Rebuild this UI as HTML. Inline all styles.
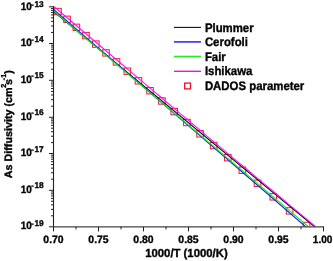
<!DOCTYPE html>
<html><head><meta charset="utf-8"><style>
html,body{margin:0;padding:0;background:#fff;width:333px;height:261px;overflow:hidden}
svg{display:block}
</style></head><body>
<svg width="333" height="261" viewBox="0 0 333 261" text-rendering="geometricPrecision">
<rect width="333" height="261" fill="#fff"/>
<defs><clipPath id="pc"><rect x="53.5" y="6.3" width="275" height="220.5"/></clipPath></defs>
<g clip-path="url(#pc)" fill="none" stroke-width="1.1">
<rect x="54.70" y="8.33" width="6.6" height="6.4" stroke="#f01830" stroke-width="1"/><rect x="63.76" y="16.12" width="6.6" height="6.4" stroke="#f01830" stroke-width="1"/><rect x="73.07" y="24.14" width="6.6" height="6.4" stroke="#f01830" stroke-width="1"/><rect x="82.66" y="32.40" width="6.6" height="6.4" stroke="#f01830" stroke-width="1"/><rect x="92.54" y="40.90" width="6.6" height="6.4" stroke="#f01830" stroke-width="1"/><rect x="102.72" y="49.66" width="6.6" height="6.4" stroke="#f01830" stroke-width="1"/><rect x="113.21" y="58.69" width="6.6" height="6.4" stroke="#f01830" stroke-width="1"/><rect x="124.03" y="68.00" width="6.6" height="6.4" stroke="#f01830" stroke-width="1"/><rect x="135.19" y="77.61" width="6.6" height="6.4" stroke="#f01830" stroke-width="1"/><rect x="146.71" y="87.53" width="6.6" height="6.4" stroke="#f01830" stroke-width="1"/><rect x="158.60" y="97.77" width="6.6" height="6.4" stroke="#f01830" stroke-width="1"/><rect x="170.90" y="108.35" width="6.6" height="6.4" stroke="#f01830" stroke-width="1"/><rect x="183.61" y="119.30" width="6.6" height="6.4" stroke="#f01830" stroke-width="1"/><rect x="196.76" y="130.62" width="6.6" height="6.4" stroke="#f01830" stroke-width="1"/><rect x="210.37" y="142.34" width="6.6" height="6.4" stroke="#f01830" stroke-width="1"/><rect x="224.47" y="154.47" width="6.6" height="6.4" stroke="#f01830" stroke-width="1"/><rect x="239.08" y="167.05" width="6.6" height="6.4" stroke="#f01830" stroke-width="1"/><rect x="254.23" y="180.09" width="6.6" height="6.4" stroke="#f01830" stroke-width="1"/><rect x="269.96" y="193.63" width="6.6" height="6.4" stroke="#f01830" stroke-width="1"/><rect x="286.28" y="207.68" width="6.6" height="6.4" stroke="#f01830" stroke-width="1"/><rect x="303.25" y="222.29" width="6.6" height="6.4" stroke="#f01830" stroke-width="1"/>
<line x1="50" y1="8.62" x2="330" y2="239.42" stroke="#000"/>
<line x1="50" y1="6.40" x2="330" y2="247.70" stroke="#1414ff"/>
<line x1="50" y1="8.05" x2="330" y2="244.96" stroke="#10e810"/>
<polyline points="50,3.24 60,11.77 70,20.28 80,28.79 90,37.29 100,45.78 110,54.27 120,62.74 130,71.20 140,79.65 150,88.10 160,96.53 170,104.96 180,113.38 190,121.78 200,130.18 210,138.57 220,146.95 230,155.32 240,163.68 250,172.03 260,180.38 270,188.71 280,197.04 290,205.35 300,213.66 310,221.95 320,230.24 330,238.52" stroke="#ff10ff"/>
</g>
<g stroke="#222" fill="none">
<line x1="53.5" y1="6.3" x2="53.5" y2="227.4" stroke-width="1.1"/>
<line x1="53" y1="226.8" x2="324" y2="226.8" stroke-width="1.3" stroke="#444"/>
<path d="M53.50 226.8V231.4M76.00 226.8V229.4M98.50 226.8V231.4M121.00 226.8V229.4M143.50 226.8V231.4M166.00 226.8V229.4M188.50 226.8V231.4M211.00 226.8V229.4M233.50 226.8V231.4M256.00 226.8V229.4M278.50 226.8V231.4M301.00 226.8V229.4M323.50 226.8V231.4M49 6.80H53.5M51 32.45H53.5M51 25.99H53.5M51 21.40H53.5M51 17.85H53.5M51 14.94H53.5M51 12.48H53.5M51 10.36H53.5M51 8.48H53.5M49 43.50H53.5M51 69.22H53.5M51 62.74H53.5M51 58.14H53.5M51 54.58H53.5M51 51.66H53.5M51 49.20H53.5M51 47.07H53.5M51 45.18H53.5M49 80.30H53.5M51 106.16H53.5M51 99.65H53.5M51 95.02H53.5M51 91.44H53.5M51 88.51H53.5M51 86.03H53.5M51 83.89H53.5M51 81.99H53.5M49 117.30H53.5M51 142.60H53.5M51 136.23H53.5M51 131.71H53.5M51 128.20H53.5M51 125.33H53.5M51 122.91H53.5M51 120.81H53.5M51 118.96H53.5M49 153.50H53.5M51 179.22H53.5M51 172.74H53.5M51 168.14H53.5M51 164.58H53.5M51 161.66H53.5M51 159.20H53.5M51 157.07H53.5M51 155.18H53.5M49 190.30H53.5M51 215.81H53.5M51 209.39H53.5M51 204.82H53.5M51 201.29H53.5M51 198.40H53.5M51 195.95H53.5M51 193.84H53.5M51 191.97H53.5M49 226.80H53.5" stroke-width="1"/>
</g>
<g font-family="Liberation Sans, Arial, sans-serif" font-weight="bold" stroke="#000" stroke-width="0.35">
<text x="53.50" y="242.8" font-size="10.6" text-anchor="middle" textLength="20.3" lengthAdjust="spacingAndGlyphs">0.70</text>
<text x="98.50" y="242.8" font-size="10.6" text-anchor="middle" textLength="20.3" lengthAdjust="spacingAndGlyphs">0.75</text>
<text x="143.50" y="242.8" font-size="10.6" text-anchor="middle" textLength="20.3" lengthAdjust="spacingAndGlyphs">0.80</text>
<text x="188.50" y="242.8" font-size="10.6" text-anchor="middle" textLength="20.3" lengthAdjust="spacingAndGlyphs">0.85</text>
<text x="233.50" y="242.8" font-size="10.6" text-anchor="middle" textLength="20.3" lengthAdjust="spacingAndGlyphs">0.90</text>
<text x="278.50" y="242.8" font-size="10.6" text-anchor="middle" textLength="20.3" lengthAdjust="spacingAndGlyphs">0.95</text>
<text x="322.60" y="242.8" font-size="10.6" text-anchor="middle" textLength="19.6" lengthAdjust="spacingAndGlyphs">1.00</text>
<text x="20.7" y="10.20" font-size="10.8" textLength="11.1" lengthAdjust="spacingAndGlyphs">10</text>
<text y="6.60" font-size="7.4"><tspan x="31.2">-</tspan><tspan x="34.5" font-size="8.3">13</tspan></text>
<text x="20.7" y="45.90" font-size="10.8" textLength="11.1" lengthAdjust="spacingAndGlyphs">10</text>
<text y="41.60" font-size="7.4"><tspan x="31.2">-</tspan><tspan x="34.5" font-size="8.3">14</tspan></text>
<text x="20.7" y="82.70" font-size="10.8" textLength="11.1" lengthAdjust="spacingAndGlyphs">10</text>
<text y="78.40" font-size="7.4"><tspan x="31.2">-</tspan><tspan x="34.5" font-size="8.3">15</tspan></text>
<text x="20.7" y="119.70" font-size="10.8" textLength="11.1" lengthAdjust="spacingAndGlyphs">10</text>
<text y="115.40" font-size="7.4"><tspan x="31.2">-</tspan><tspan x="34.5" font-size="8.3">16</tspan></text>
<text x="20.7" y="155.90" font-size="10.8" textLength="11.1" lengthAdjust="spacingAndGlyphs">10</text>
<text y="151.60" font-size="7.4"><tspan x="31.2">-</tspan><tspan x="34.5" font-size="8.3">17</tspan></text>
<text x="20.7" y="192.70" font-size="10.8" textLength="11.1" lengthAdjust="spacingAndGlyphs">10</text>
<text y="188.40" font-size="7.4"><tspan x="31.2">-</tspan><tspan x="34.5" font-size="8.3">18</tspan></text>
<text x="20.7" y="229.20" font-size="10.8" textLength="11.1" lengthAdjust="spacingAndGlyphs">10</text>
<text y="225.70" font-size="7.4"><tspan x="31.2">-</tspan><tspan x="34.5" font-size="8.3">19</tspan></text>
<text x="145.2" y="257.2" font-size="11.6" textLength="82.5" lengthAdjust="spacingAndGlyphs">1000/T (1000/K)</text>
<text transform="translate(12.1,178.2) rotate(-90)" font-size="10.8"><tspan x="0" y="0" textLength="90.8" lengthAdjust="spacingAndGlyphs">As Diffusivity (cm</tspan><tspan x="90.4" y="-5.8" font-size="7.2">2</tspan><tspan x="93.2" y="0">s</tspan><tspan x="98.0" y="-5.8" font-size="7.2">-1</tspan><tspan x="104.4" y="0">)</tspan></text>
<text x="204.9" y="31.60" font-size="12.3" textLength="48.75" lengthAdjust="spacingAndGlyphs">Plummer</text>
<text x="204.9" y="46.20" font-size="12.3" textLength="43.05" lengthAdjust="spacingAndGlyphs">Cerofoli</text>
<text x="204.9" y="60.80" font-size="12.3" textLength="20.89" lengthAdjust="spacingAndGlyphs">Fair</text>
<text x="204.9" y="75.40" font-size="12.3" textLength="47.5" lengthAdjust="spacingAndGlyphs">Ishikawa</text>
<text x="204.9" y="90.00" font-size="12.3" textLength="99.39" lengthAdjust="spacingAndGlyphs">DADOS parameter</text>
</g>
<line x1="174" y1="27.4" x2="201" y2="27.4" stroke="#111" stroke-width="1.1"/>
<line x1="174" y1="41.9" x2="201" y2="41.9" stroke="#4646f4" stroke-width="1.8"/>
<line x1="174" y1="56.5" x2="201" y2="56.5" stroke="#22ee22" stroke-width="1.6"/>
<line x1="174" y1="71.3" x2="201" y2="71.3" stroke="#f010f0" stroke-width="1.4"/>
<rect x="184.7" y="83.1" width="5.8" height="5.8" fill="none" stroke="#e8102c" stroke-width="1.3"/>
</svg>
</body></html>
